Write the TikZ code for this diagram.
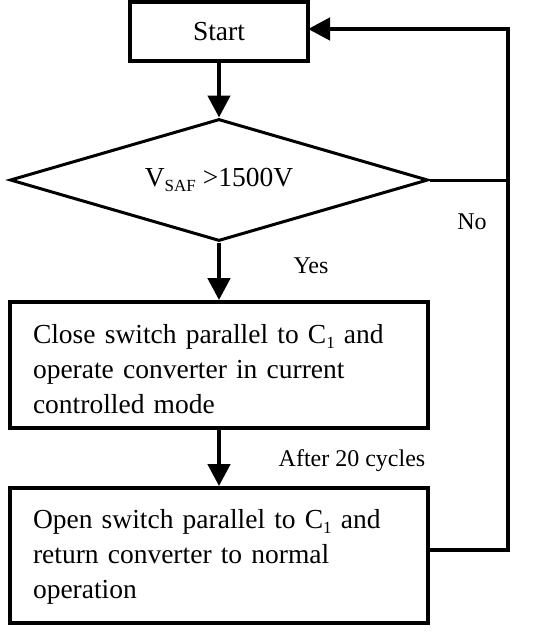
\documentclass[tikz,border=0pt]{standalone}
\usepackage{fontspec}
\setmainfont{Liberation Serif}
\usetikzlibrary{shapes.geometric,arrows.meta}
\newcommand\mysub[1]{\raisebox{-0.4ex}{\fontsize{17}{17}\selectfont #1}}
\begin{document}
\begin{tikzpicture}[x=1pt,y=-1pt,
  boxstyle/.style={draw,line width=3.8pt,inner sep=0pt},
  txtbox/.style={boxstyle,minimum width=418pt},
  boxtext/.style={text width=372pt,align=left,inner sep=0pt,
    font=\fontsize{27.5}{35}\selectfont},
  flow/.style={line width=4.5pt,-{Triangle[width=22pt,length=22pt]}},
  lbl/.style={font=\fontsize{24}{28}\selectfont,inner sep=0pt}]
\useasboundingbox (0,0) rectangle (546,642);
\node[boxstyle,minimum width=178pt,minimum height=59pt,font=\fontsize{27.5}{30}\selectfont] (start) at (219,31.5) {Start};
\node[diamond,draw,line width=3pt,aspect=3.43,minimum width=418pt,minimum height=122pt,inner sep=0pt,
  font=\fontsize{27.5}{30}\selectfont] (dec) at (219,180) {V\mysub{SAF} >1500V};
\node[txtbox,minimum height=126pt] (b1) at (219,365) {};
\node[boxtext] (b1t) at ([yshift=-4pt]b1.center)
  {Close switch parallel to C\mysub{1} and\\operate converter in current\\controlled mode};
\node[txtbox,minimum height=135pt] (b2) at (219,555.5) {};
\node[boxtext] (b2t) at ([yshift=-1pt]b2.center)
  {Open switch parallel to C\mysub{1} and\\return converter to normal\\operation};
\coordinate (rtop) at (508,29);
\coordinate (rmid) at (508,180);
\coordinate (rbot) at (508,550);
\coordinate (sin) at (308,29);
\draw[flow] (start.south) -- (dec.north);
\draw[flow] (dec.south) -- (b1.north);
\draw[flow] (b1.south) -- (b2.north);
\draw[line width=3pt] (dec.east) -- (rmid);
\draw[line width=4.5pt,-{Triangle[width=22pt,length=22pt]}] ([yshift=5.5pt]b2.east) -- (rbot) -- (rtop) -- (sin);
\node[lbl] (yes) at (311,266) {Yes};
\node[lbl] (no) at (472,222) {No};
\node[lbl] (after) at (352,461) {After 20 cycles};
\end{tikzpicture}
\end{document}
